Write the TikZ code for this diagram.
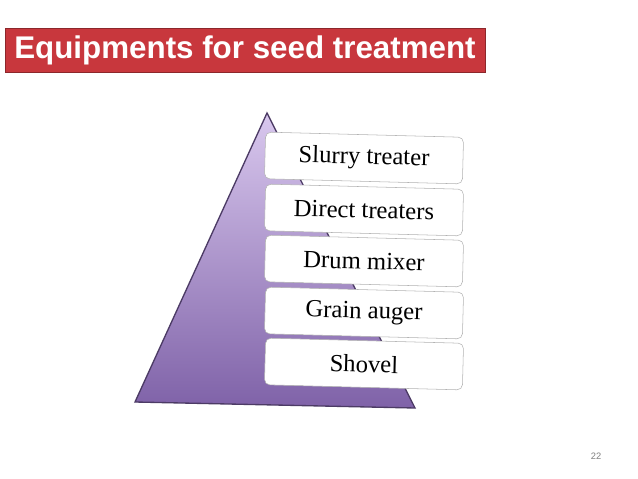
\documentclass[tikz,border=0pt]{standalone}
\usepackage{fontspec}
\setmainfont{Liberation Serif}
\setsansfont{Liberation Sans}
\definecolor{titlered}{HTML}{C8373D}
\definecolor{pyrtop}{HTML}{D9C8EE}
\definecolor{pyrbot}{HTML}{7F62A8}
\begin{document}
\begin{tikzpicture}[x=0.75pt, y=-0.75pt,
    tier/.style={
        draw=gray!60,
        fill=white,
        rounded corners=4pt,
        minimum width=148.5pt,
        minimum height=35pt,
        rotate=-1.5,
        font=\fontsize{18.5}{21}\selectfont
    },
    banner/.style={
        draw=titlered!70!black,
        fill=titlered,
        text=white,
        minimum width=360pt,
        minimum height=33pt,
        font=\sffamily\bfseries\fontsize{23.5}{26}\selectfont
    }
]
\useasboundingbox (0,0) rectangle (638,478);

% --- Title ---
\node[banner] (title) at (245,50) {Equipments for seed treatment};

% --- Pyramid ---
\shade[top color=pyrtop, bottom color=pyrbot, draw=pyrbot!60!black, line width=1pt]
    (267,113) -- (135,402) -- (415,408) -- cycle;

% --- Tiers ---
\node[tier] (s1) at (364,158) {Slurry treater};
\node[tier] (s2) at (364,210) {Direct treaters};
\node[tier] (s3) at (364,261) {Drum mixer};
\node[tier] (s4) at (364,313) {Grain auger};
\node[tier] (s5) at (364,364) {Shovel};

% --- Page number ---
\node[font=\sffamily\fontsize{7}{8}\selectfont, text=gray] (page) at (596,456) {22};
\end{tikzpicture}
\end{document}
